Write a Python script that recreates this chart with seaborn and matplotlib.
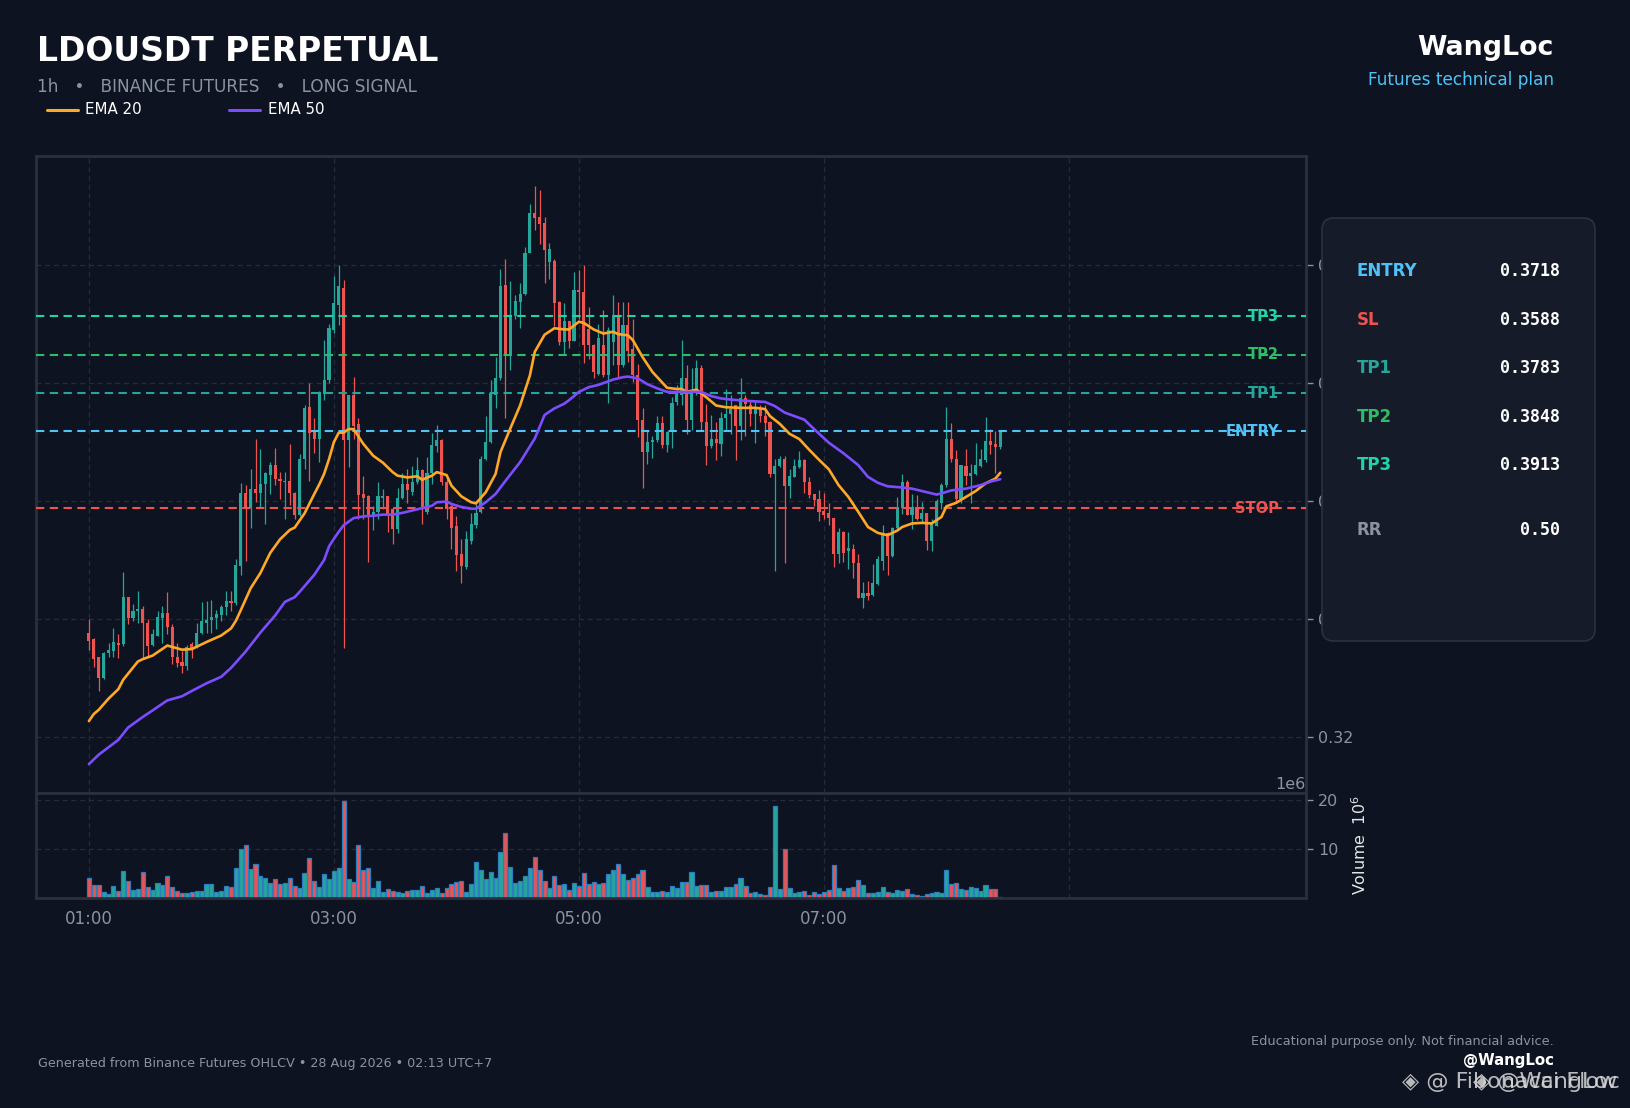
import numpy as np
import pandas as pd
import matplotlib
matplotlib.use("Agg")
import matplotlib.pyplot as plt
import seaborn as sns
import matplotlib.transforms as mtransforms
from matplotlib.patches import FancyBboxPatch
from matplotlib.lines import Line2D
from matplotlib.ticker import ScalarFormatter, FormatStrFormatter

# ---------------- data ----------------
opens = [0.3377, 0.3366, 0.3335, 0.3300, 0.3342, 0.3346, 0.3359, 0.3357, 0.3437, 0.3401,
         0.3413, 0.3417, 0.3394, 0.3356, 0.3372, 0.3401, 0.3410, 0.3387, 0.3336, 0.3327,
         0.3320, 0.3358, 0.3354, 0.3376, 0.3394, 0.3398, 0.3401, 0.3407, 0.3420, 0.3430,
         0.3427, 0.3490, 0.3614, 0.3589, 0.3620, 0.3613, 0.3629, 0.3644, 0.3661, 0.3638,
         0.3632, 0.3634, 0.3614, 0.3577, 0.3671, 0.3759, 0.3717, 0.3705, 0.3782, 0.3805,
         0.3890, 0.3933, 0.3962, 0.3704, 0.3779, 0.3730, 0.3612, 0.3608, 0.3577, 0.3581,
         0.3606, 0.3608, 0.3587, 0.3552, 0.3605, 0.3629, 0.3616, 0.3632, 0.3653, 0.3581,
         0.3648, 0.3694, 0.3704, 0.3633, 0.3592, 0.3557, 0.3511, 0.3489, 0.3533, 0.3560,
         0.3581, 0.3671, 0.3700, 0.3779, 0.3808, 0.3966, 0.3847, 0.3914, 0.3938, 0.3951,
         0.4021, 0.4089, 0.4081, 0.4071, 0.4006, 0.4007, 0.3938, 0.3869, 0.3905, 0.3872,
         0.3958, 0.3955, 0.3892, 0.3865, 0.3816, 0.3864, 0.3813, 0.3870, 0.3915, 0.3830,
         0.3898, 0.3857, 0.3813, 0.3738, 0.3683, 0.3700, 0.3703, 0.3733, 0.3695, 0.3717,
         0.3768, 0.3780, 0.3808, 0.3738, 0.3786, 0.3825, 0.3734, 0.3693, 0.3706, 0.3697,
         0.3741, 0.3747, 0.3762, 0.3727, 0.3775, 0.3762, 0.3748, 0.3756, 0.3745, 0.3734,
         0.3645, 0.3659, 0.3672, 0.3625, 0.3641, 0.3657, 0.3669, 0.3633, 0.3612, 0.3603,
         0.3583, 0.3579, 0.3572, 0.3511, 0.3548, 0.3515, 0.3519, 0.3495, 0.3436, 0.3444,
         0.3440, 0.3460, 0.3499, 0.3546, 0.3506, 0.3555, 0.3589, 0.3633, 0.3576, 0.3590,
         0.3570, 0.3579, 0.3533, 0.3558, 0.3597, 0.3627, 0.3705, 0.3672, 0.3603, 0.3659,
         0.3643, 0.3646, 0.3659, 0.3670, 0.3702, 0.3697, 0.3692]
highs = [0.3400, 0.3367, 0.3336, 0.3344, 0.3360, 0.3385, 0.3375, 0.3479, 0.3438, 0.3426,
         0.3448, 0.3422, 0.3400, 0.3383, 0.3414, 0.3422, 0.3446, 0.3391, 0.3359, 0.3346,
         0.3356, 0.3361, 0.3394, 0.3428, 0.3430, 0.3433, 0.3416, 0.3423, 0.3448, 0.3448,
         0.3501, 0.3631, 0.3627, 0.3654, 0.3706, 0.3689, 0.3649, 0.3666, 0.3690, 0.3649,
         0.3649, 0.3696, 0.3616, 0.3680, 0.3763, 0.3800, 0.3740, 0.3786, 0.3873, 0.3900,
         0.3982, 0.4000, 0.3974, 0.3780, 0.3810, 0.3741, 0.3642, 0.3610, 0.3592, 0.3633,
         0.3621, 0.3609, 0.3590, 0.3622, 0.3647, 0.3655, 0.3660, 0.3674, 0.3654, 0.3674,
         0.3715, 0.3729, 0.3705, 0.3638, 0.3593, 0.3574, 0.3536, 0.3550, 0.3580, 0.3595,
         0.3677, 0.3745, 0.3806, 0.3844, 0.3994, 0.4011, 0.3973, 0.3949, 0.3969, 0.4031,
         0.4103, 0.4134, 0.4128, 0.4082, 0.4037, 0.4011, 0.3940, 0.3935, 0.3906, 0.3989,
         0.3991, 0.4001, 0.3929, 0.3866, 0.3900, 0.3924, 0.3895, 0.3949, 0.3938, 0.3938,
         0.3938, 0.3909, 0.3833, 0.3757, 0.3718, 0.3710, 0.3745, 0.3744, 0.3718, 0.3776,
         0.3797, 0.3873, 0.3831, 0.3826, 0.3839, 0.3830, 0.3765, 0.3746, 0.3734, 0.3751,
         0.3790, 0.3779, 0.3763, 0.3808, 0.3779, 0.3771, 0.3771, 0.3762, 0.3762, 0.3735,
         0.3672, 0.3677, 0.3676, 0.3655, 0.3672, 0.3684, 0.3672, 0.3641, 0.3612, 0.3619,
         0.3613, 0.3596, 0.3572, 0.3555, 0.3549, 0.3547, 0.3528, 0.3511, 0.3462, 0.3465,
         0.3494, 0.3506, 0.3559, 0.3548, 0.3556, 0.3607, 0.3646, 0.3636, 0.3612, 0.3610,
         0.3599, 0.3579, 0.3569, 0.3603, 0.3630, 0.3759, 0.3732, 0.3687, 0.3661, 0.3688,
         0.3662, 0.3699, 0.3689, 0.3742, 0.3722, 0.3718, 0.3719]
lows = [0.3348, 0.3319, 0.3278, 0.3299, 0.3335, 0.3336, 0.3334, 0.3354, 0.3391, 0.3397,
        0.3394, 0.3333, 0.3337, 0.3355, 0.3371, 0.3360, 0.3374, 0.3323, 0.3319, 0.3308,
        0.3314, 0.3334, 0.3351, 0.3375, 0.3377, 0.3377, 0.3383, 0.3397, 0.3407, 0.3413,
        0.3423, 0.3475, 0.3499, 0.3555, 0.3598, 0.3590, 0.3561, 0.3612, 0.3627, 0.3604,
        0.3570, 0.3593, 0.3570, 0.3575, 0.3654, 0.3634, 0.3682, 0.3667, 0.3772, 0.3800,
        0.3885, 0.3898, 0.3350, 0.3657, 0.3705, 0.3570, 0.3570, 0.3496, 0.3551, 0.3570,
        0.3586, 0.3547, 0.3527, 0.3546, 0.3604, 0.3597, 0.3610, 0.3629, 0.3561, 0.3578,
        0.3629, 0.3683, 0.3627, 0.3570, 0.3519, 0.3482, 0.3461, 0.3485, 0.3527, 0.3554,
        0.3580, 0.3669, 0.3699, 0.3757, 0.3805, 0.3740, 0.3822, 0.3909, 0.3894, 0.3949,
        0.4020, 0.4059, 0.4035, 0.3969, 0.3977, 0.3897, 0.3865, 0.3847, 0.3860, 0.3871,
        0.3908, 0.3834, 0.3841, 0.3809, 0.3813, 0.3810, 0.3766, 0.3830, 0.3810, 0.3827,
        0.3836, 0.3802, 0.3708, 0.3622, 0.3663, 0.3673, 0.3700, 0.3690, 0.3683, 0.3690,
        0.3762, 0.3762, 0.3714, 0.3720, 0.3779, 0.3718, 0.3661, 0.3690, 0.3670, 0.3677,
        0.3720, 0.3714, 0.3669, 0.3703, 0.3711, 0.3727, 0.3698, 0.3734, 0.3711, 0.3640,
        0.3481, 0.3657, 0.3495, 0.3605, 0.3640, 0.3656, 0.3613, 0.3606, 0.3591, 0.3566,
        0.3569, 0.3559, 0.3488, 0.3495, 0.3497, 0.3485, 0.3470, 0.3435, 0.3419, 0.3432,
        0.3439, 0.3457, 0.3483, 0.3475, 0.3505, 0.3553, 0.3578, 0.3576, 0.3552, 0.3568,
        0.3565, 0.3517, 0.3515, 0.3558, 0.3587, 0.3624, 0.3667, 0.3597, 0.3596, 0.3627,
        0.3596, 0.3644, 0.3658, 0.3667, 0.3680, 0.3647, 0.3688]
closes = [0.3363, 0.3333, 0.3300, 0.3343, 0.3347, 0.3361, 0.3356, 0.3437, 0.3401, 0.3414,
          0.3417, 0.3393, 0.3354, 0.3375, 0.3403, 0.3410, 0.3386, 0.3336, 0.3326, 0.3320,
          0.3353, 0.3349, 0.3377, 0.3396, 0.3399, 0.3403, 0.3409, 0.3421, 0.3430, 0.3427,
          0.3492, 0.3614, 0.3590, 0.3620, 0.3613, 0.3629, 0.3647, 0.3661, 0.3637, 0.3634,
          0.3634, 0.3614, 0.3577, 0.3671, 0.3758, 0.3715, 0.3705, 0.3785, 0.3806, 0.3894,
          0.3935, 0.3964, 0.3704, 0.3779, 0.3728, 0.3611, 0.3606, 0.3577, 0.3582, 0.3608,
          0.3609, 0.3577, 0.3552, 0.3605, 0.3629, 0.3618, 0.3633, 0.3653, 0.3587, 0.3647,
          0.3695, 0.3703, 0.3632, 0.3587, 0.3554, 0.3508, 0.3490, 0.3535, 0.3561, 0.3580,
          0.3672, 0.3700, 0.3784, 0.3808, 0.3964, 0.3847, 0.3915, 0.3939, 0.3951, 0.4021,
          0.4089, 0.4080, 0.4070, 0.4025, 0.4027, 0.3936, 0.3870, 0.3905, 0.3872, 0.3958,
          0.3955, 0.3864, 0.3864, 0.3819, 0.3877, 0.3813, 0.3890, 0.3915, 0.3830, 0.3898,
          0.3854, 0.3813, 0.3737, 0.3683, 0.3700, 0.3704, 0.3732, 0.3695, 0.3717, 0.3767,
          0.3782, 0.3808, 0.3738, 0.3786, 0.3825, 0.3734, 0.3693, 0.3706, 0.3698, 0.3741,
          0.3748, 0.3756, 0.3728, 0.3775, 0.3765, 0.3748, 0.3756, 0.3744, 0.3732, 0.3645,
          0.3660, 0.3672, 0.3625, 0.3643, 0.3659, 0.3669, 0.3632, 0.3610, 0.3602, 0.3582,
          0.3577, 0.3571, 0.3511, 0.3548, 0.3512, 0.3521, 0.3495, 0.3436, 0.3444, 0.3439,
          0.3461, 0.3501, 0.3544, 0.3506, 0.3555, 0.3590, 0.3633, 0.3576, 0.3590, 0.3570,
          0.3580, 0.3533, 0.3562, 0.3600, 0.3627, 0.3705, 0.3671, 0.3603, 0.3661, 0.3642,
          0.3647, 0.3661, 0.3672, 0.3702, 0.3695, 0.3692, 0.3719]
volume_m = [4.1, 2.6, 2.7, 1.2, 0.8, 2.5, 1.4, 5.6, 3.5, 1.7,
            1.9, 5.2, 2.3, 1.7, 3.1, 2.7, 4.4, 2.3, 1.4, 1.0,
            1.0, 1.2, 1.4, 1.4, 2.9, 2.9, 1.2, 1.4, 2.5, 2.3,
            6.2, 9.9, 10.9, 6.0, 6.9, 4.4, 4.1, 3.1, 3.9, 2.9,
            3.1, 4.1, 2.5, 2.1, 5.0, 8.2, 3.5, 2.3, 4.8, 3.9,
            5.6, 6.2, 19.7, 3.9, 3.3, 10.9, 5.8, 6.2, 2.1, 3.5,
            1.2, 1.8, 1.4, 1.2, 1.0, 1.4, 1.7, 1.7, 2.5, 1.1,
            1.7, 2.1, 1.1, 2.1, 2.9, 3.3, 3.5, 1.2, 2.9, 7.4,
            5.8, 3.9, 5.2, 4.1, 9.3, 13.3, 6.4, 3.1, 3.5, 4.4,
            6.2, 8.4, 5.8, 3.5, 2.1, 4.4, 2.7, 2.9, 1.6, 3.1,
            2.5, 5.0, 2.9, 3.3, 2.9, 3.1, 4.8, 5.8, 7.0, 4.8,
            3.7, 4.1, 4.8, 5.8, 2.3, 1.2, 1.2, 1.4, 1.2, 2.5,
            2.1, 3.3, 3.3, 5.2, 2.5, 2.7, 2.7, 1.2, 1.4, 1.4,
            2.3, 2.3, 2.9, 4.1, 2.5, 1.0, 1.2, 0.8, 0.6, 2.3,
            18.8, 1.8, 9.9, 2.1, 1.0, 1.2, 1.4, 0.6, 1.2, 0.8,
            1.2, 1.6, 6.8, 2.1, 1.4, 2.1, 2.3, 3.7, 2.7, 1.0,
            1.0, 1.2, 2.3, 1.2, 1.0, 1.6, 1.4, 1.8, 0.8, 0.6,
            0.4, 0.8, 1.0, 1.2, 1.0, 5.8, 2.9, 3.1, 1.8, 1.6,
            2.3, 2.1, 1.4, 2.7, 1.8, 1.8, 0.3]

ema20_x = [0, 1, 2, 4, 6, 7, 10, 11, 13, 16, 19, 21, 24, 27, 29, 30, 31, 33, 35, 37,
           39, 41, 42, 44, 46, 47, 48, 49, 50, 51, 52, 53, 54, 56, 58, 60, 62, 63, 65, 67,
           68, 70, 71, 73, 74, 76, 78, 79, 81, 83, 84, 86, 88, 90, 91, 93, 95, 97, 98, 100,
           101, 103, 105, 107, 108, 110, 111, 113, 115, 118, 120, 121, 122, 124, 126, 128, 130, 133, 136, 138,
           139, 141, 143, 145, 147, 149, 151, 153, 155, 157, 159, 161, 163, 165, 166, 168, 170, 172, 174, 175,
           177, 179, 181, 183, 185, 186]
ema20 = [0.3227, 0.3239, 0.3246, 0.3265, 0.3281, 0.3297, 0.3328, 0.3332, 0.3338, 0.3355,
         0.3348, 0.3349, 0.3361, 0.3372, 0.3384, 0.3397, 0.3415, 0.3452, 0.3478, 0.3512,
         0.3535, 0.3551, 0.3555, 0.3579, 0.3612, 0.3628, 0.3646, 0.3671, 0.3700, 0.3716,
         0.3716, 0.3722, 0.3722, 0.3697, 0.3677, 0.3665, 0.3649, 0.3643, 0.3640, 0.3642,
         0.3636, 0.3643, 0.3649, 0.3644, 0.3626, 0.3608, 0.3598, 0.3596, 0.3615, 0.3646,
         0.3683, 0.3723, 0.3762, 0.3813, 0.3853, 0.3882, 0.3893, 0.3891, 0.3891, 0.3904,
         0.3902, 0.3891, 0.3884, 0.3887, 0.3883, 0.3881, 0.3873, 0.3844, 0.3819, 0.3792,
         0.3790, 0.3790, 0.3785, 0.3789, 0.3776, 0.3762, 0.3759, 0.3758, 0.3758, 0.3756,
         0.3744, 0.3731, 0.3714, 0.3705, 0.3687, 0.3670, 0.3654, 0.3627, 0.3607, 0.3582,
         0.3556, 0.3546, 0.3542, 0.3550, 0.3556, 0.3562, 0.3563, 0.3562, 0.3573, 0.3591,
         0.3597, 0.3607, 0.3617, 0.3630, 0.3638, 0.3648]

ema50_x = [0, 2, 6, 8, 11, 13, 16, 19, 21, 24, 27, 29, 32, 35, 38, 40, 42, 43, 46, 48,
           49, 50, 51, 52, 54, 56, 58, 60, 62, 64, 66, 68, 70, 71, 73, 74, 76, 78, 79, 81,
           83, 85, 88, 91, 93, 95, 97, 98, 100, 102, 104, 107, 109, 110, 112, 114, 116, 118, 121, 123,
           125, 127, 129, 131, 134, 138, 140, 142, 145, 146, 148, 151, 154, 157, 159, 161, 163, 166, 168, 170,
           173, 174, 176, 179, 182, 184, 186]
ema50 = [0.3154, 0.3170, 0.3195, 0.3216, 0.3234, 0.3245, 0.3262, 0.3269, 0.3278, 0.3291,
         0.3302, 0.3317, 0.3345, 0.3377, 0.3406, 0.3429, 0.3437, 0.3446, 0.3475, 0.3500,
         0.3523, 0.3536, 0.3548, 0.3559, 0.3571, 0.3574, 0.3575, 0.3577, 0.3577, 0.3580,
         0.3584, 0.3588, 0.3592, 0.3598, 0.3599, 0.3595, 0.3590, 0.3587, 0.3587, 0.3598,
         0.3612, 0.3634, 0.3666, 0.3706, 0.3746, 0.3757, 0.3765, 0.3771, 0.3785, 0.3793,
         0.3797, 0.3806, 0.3810, 0.3811, 0.3808, 0.3798, 0.3791, 0.3785, 0.3785, 0.3785,
         0.3785, 0.3778, 0.3774, 0.3772, 0.3770, 0.3768, 0.3761, 0.3750, 0.3741, 0.3738,
         0.3722, 0.3699, 0.3681, 0.3661, 0.3641, 0.3631, 0.3625, 0.3623, 0.3621, 0.3617,
         0.3611, 0.3613, 0.3618, 0.3621, 0.3627, 0.3633, 0.3637]

level_names = ["TP3", "TP2", "TP1", "ENTRY", "STOP"]
level_values = [0.3913, 0.3848, 0.3783, 0.3718, 0.3588]
panel_labels = ["ENTRY", "SL", "TP1", "TP2", "TP3", "RR"]
panel_values = ["0.3718", "0.3588", "0.3783", "0.3848", "0.3913", "0.50"]
xtick_pos = [0, 50, 100, 150, 200]
xtick_labels = ["01:00", "03:00", "05:00", "07:00", ""]
price_ticks = [0.32, 0.34, 0.36, 0.38, 0.40]
vol_ticks = [10e6, 20e6]

# ---------------- style ----------------
BG = "#0d1320"
PANEL = "#151b29"
GRID = "#252b37"
SPINE = "#2b313c"
MUTED = "#8b93a1"
UP = "#26a69a"
DN = "#ef5350"
EMA20_C = "#ffa726"
EMA50_C = "#7c4dff"
level_colors = {"TP3": "#22d3a6", "TP2": "#2ebd67", "TP1": "#26a69a",
                "ENTRY": "#4fc3f7", "STOP": "#ef5350"}
panel_colors = {"ENTRY": "#4fc3f7", "SL": "#ef5350", "TP1": "#26a69a",
                "TP2": "#2ebd67", "TP3": "#22d3a6", "RR": MUTED}

sns.set_style("dark")
plt.rcParams["font.family"] = ["DejaVu Sans"]

W, H = 1631, 1108
fig = plt.figure(figsize=(W / 100, H / 100), dpi=100)
fig.patch.set_facecolor(BG)

def fx(px):
    return px / W

def fy(py):
    return 1 - py / H

ax = fig.add_axes([fx(36), fy(793), 1270 / W, 637 / H])
axv = fig.add_axes([fx(36), fy(898), 1270 / W, 105 / H], sharex=ax)

df = pd.DataFrame({"idx": np.arange(len(closes)), "open": opens, "high": highs,
                   "low": lows, "close": closes, "vol": np.array(volume_m) * 1e6})
df["dir"] = np.where(df["close"] >= df["open"], "up", "down")
cols = np.where(df["dir"] == "up", UP, DN)

for a in (ax, axv):
    a.set_facecolor(BG)
    a.set_axisbelow(True)
    a.grid(True, color=GRID, linestyle=(0, (4, 3)), linewidth=0.9)
    for s in a.spines.values():
        s.set_color(SPINE)
        s.set_linewidth(2)

# candles
ax.vlines(df["idx"], df["low"], df["high"], colors=cols, linewidth=0.9, zorder=2)
body_lo = np.minimum(df["open"], df["close"])
body_h = np.maximum(np.abs(df["close"] - df["open"]), 0.00012)
ax.bar(df["idx"], body_h, bottom=body_lo, width=0.64, color=cols, linewidth=0, zorder=2.1)

# EMAs
sns.lineplot(x=ema20_x, y=ema20, ax=ax, color=EMA20_C, linewidth=1.9, zorder=4, estimator=None)
sns.lineplot(x=ema50_x, y=ema50, ax=ax, color=EMA50_C, linewidth=1.9, zorder=4, estimator=None)

# levels
trans = mtransforms.blended_transform_factory(ax.transAxes, ax.transData)
for name, val in zip(level_names, level_values):
    c = level_colors[name]
    ax.axhline(val, color=c, linestyle=(0, (4, 2.6)), linewidth=1.5, zorder=3)
    ax.text(0.979, val, name, transform=trans, ha="right", va="center",
            fontsize=10.5, fontweight="bold", color=c, zorder=5)

ax.set_ylim(0.3105, 0.4185)
ax.set_yticks(price_ticks)
ax.yaxis.set_major_formatter(FormatStrFormatter("%.2f"))
ax.yaxis.tick_right()
ax.tick_params(axis="y", colors=MUTED, labelsize=11.5, length=5, width=1)
ax.tick_params(axis="x", length=0, labelbottom=False)
ax.set_xlabel("")
ax.set_ylabel("")

# volume
sns.barplot(data=df, x="idx", y="vol", hue="dir", palette={"up": UP, "down": DN},
            native_scale=True, dodge=False, width=0.85, errorbar=None, saturation=1,
            edgecolor="#2b7fc0", linewidth=0.9, legend=False, ax=axv)
axv.set_ylim(0, 21.4e6)
axv.set_yticks(vol_ticks)
fmt = ScalarFormatter()
fmt.set_powerlimits((6, 6))
axv.yaxis.set_major_formatter(fmt)
axv.yaxis.tick_right()
axv.yaxis.set_offset_position("right")
axv.yaxis.get_offset_text().set_color(MUTED)
axv.yaxis.get_offset_text().set_fontsize(11.5)
axv.tick_params(axis="y", colors=MUTED, labelsize=11.5, length=5, width=1)
axv.set_xticks(xtick_pos)
axv.set_xticklabels(xtick_labels)
axv.tick_params(axis="x", colors=MUTED, labelsize=12, length=5, width=1)
axv.set_xlabel("")
axv.yaxis.set_label_position("right")
axv.set_ylabel("Volume  $10^6$", color="#e6e6e6", fontsize=11.5, labelpad=9)
axv.set_xlim(-10.8, 248.4)

# header
fig.text(fx(37.5), fy(61), "LDOUSDT PERPETUAL", fontsize=23.8, fontweight="bold",
         color="white", va="baseline")
fig.text(fx(37), fy(91.7), "1h   •   BINANCE FUTURES   •   LONG SIGNAL", fontsize=12.2,
         color=MUTED, va="baseline")
fig.lines.append(Line2D([fx(47), fx(78)], [fy(110), fy(110)], transform=fig.transFigure,
                        color=EMA20_C, linewidth=2.2))
fig.text(fx(85), fy(110), "EMA 20", fontsize=10.8, color="white", va="center")
fig.lines.append(Line2D([fx(229), fx(260)], [fy(110), fy(110)], transform=fig.transFigure,
                        color=EMA50_C, linewidth=2.2))
fig.text(fx(268), fy(110), "EMA 50", fontsize=10.8, color="white", va="center")
fig.text(fx(1554), fy(55), "WangLoc", fontsize=19.3, fontweight="bold", color="white",
         ha="right", va="baseline")
fig.text(fx(1554), fy(80), "Futures technical plan", fontsize=12.2, color="#4fc3f7",
         ha="right", va="center")

# side panel
panel = FancyBboxPatch((13.22, (H - 641) / 100), 2.73, 4.23,
                       boxstyle="round,pad=0,rounding_size=0.12",
                       transform=fig.dpi_scale_trans, facecolor=PANEL,
                       edgecolor="#2a3140", linewidth=1.2, zorder=2)
fig.patches.append(panel)
row_y = [271, 320, 368, 417, 465, 530]
for lab, val, ry in zip(panel_labels, panel_values, row_y):
    fig.text(fx(1357), fy(ry), lab, fontsize=12, fontweight="bold",
             color=panel_colors[lab], va="center", zorder=5)
    fig.text(fx(1560), fy(ry), val, fontsize=12, fontweight="bold",
             family="DejaVu Sans Mono", color="white", ha="right", va="center", zorder=5)

# footer
fig.text(fx(38), fy(1064), "Generated from Binance Futures OHLCV • 28 Aug 2026 • 02:13 UTC+7",
         fontsize=9.2, color=MUTED, va="center")
fig.text(fx(1554), fy(1042), "Educational purpose only. Not financial advice.",
         fontsize=9.3, color=MUTED, ha="right", va="center")
fig.text(fx(1554), fy(1061), "@WangLoc", fontsize=10.8, fontweight="bold",
         color="white", ha="right", va="center")
fig.text(fx(1402), fy(1082), "◈ @ Fibonacci Flow", fontsize=16, color="#d8d8d8",
         alpha=0.85, va="center")
fig.text(fx(1473), fy(1082), "◈ @WangLoc", fontsize=16, color="#d8d8d8",
         alpha=0.85, va="center")

fig.savefig("out.png", dpi=100, facecolor=BG)
